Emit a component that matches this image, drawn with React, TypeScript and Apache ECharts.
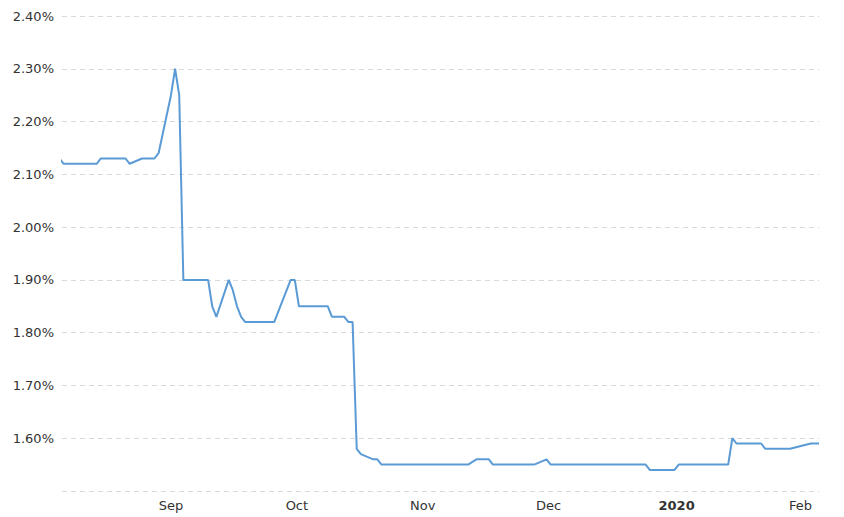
import React, { useEffect, useRef } from "react";
import * as echarts from "echarts";

// Effective rate (%), business days, by month
const aug2019Days = [20, 21, 22, 23, 26, 27, 28, 29, 30];
const aug2019Rates = [2.13, 2.12, 2.12, 2.12, 2.12, 2.12, 2.12, 2.12, 2.13];

const sep2019Days = [3, 4, 5, 6, 9, 10, 11, 12, 13, 16, 17, 18, 19, 20, 23, 24, 25, 26, 27, 30];
const sep2019Rates = [2.13, 2.13, 2.13, 2.12, 2.13, 2.13, 2.13, 2.13, 2.14, 2.25, 2.3, 2.25, 1.9, 1.9, 1.9, 1.9, 1.9, 1.85, 1.83, 1.9];

const oct2019Days = [1, 2, 3, 4, 7, 8, 9, 10, 11, 15, 16, 17, 18, 21, 22, 23, 24, 25, 28, 29, 30, 31];
const oct2019Rates = [1.88, 1.85, 1.83, 1.82, 1.82, 1.82, 1.82, 1.82, 1.82, 1.9, 1.9, 1.85, 1.85, 1.85, 1.85, 1.85, 1.85, 1.83, 1.83, 1.82, 1.82, 1.58];

const nov2019Days = [1, 4, 5, 6, 7, 8, 12, 13, 14, 15, 18, 19, 20, 21, 22, 25, 26, 27, 29];
const nov2019Rates = [1.57, 1.56, 1.56, 1.55, 1.55, 1.55, 1.55, 1.55, 1.55, 1.55, 1.55, 1.55, 1.55, 1.55, 1.55, 1.55, 1.55, 1.55, 1.56];

const dec2019Days = [2, 3, 4, 5, 6, 9, 10, 11, 12, 13, 16, 17, 18, 19, 20, 23, 24, 26, 27, 30, 31];
const dec2019Rates = [1.56, 1.55, 1.55, 1.55, 1.55, 1.55, 1.55, 1.55, 1.55, 1.55, 1.56, 1.55, 1.55, 1.55, 1.55, 1.55, 1.55, 1.55, 1.55, 1.55, 1.55];

const jan2020Days = [2, 3, 6, 7, 8, 9, 10, 13, 14, 15, 16, 17, 21, 22, 23, 24, 27, 28, 29, 30, 31];
const jan2020Rates = [1.55, 1.55, 1.55, 1.55, 1.55, 1.55, 1.54, 1.54, 1.54, 1.54, 1.54, 1.55, 1.55, 1.55, 1.55, 1.55, 1.55, 1.55, 1.55, 1.6, 1.59];

const feb2020Days = [3, 4, 5, 6, 7, 10, 11, 12, 13, 18, 19, 20];
const feb2020Rates = [1.59, 1.59, 1.59, 1.59, 1.58, 1.58, 1.58, 1.58, 1.58, 1.59, 1.59, 1.59];

const months = [
  { year: 2019, month: 7, days: aug2019Days, rates: aug2019Rates },
  { year: 2019, month: 8, days: sep2019Days, rates: sep2019Rates },
  { year: 2019, month: 9, days: oct2019Days, rates: oct2019Rates },
  { year: 2019, month: 10, days: nov2019Days, rates: nov2019Rates },
  { year: 2019, month: 11, days: dec2019Days, rates: dec2019Rates },
  { year: 2020, month: 0, days: jan2020Days, rates: jan2020Rates },
  { year: 2020, month: 1, days: feb2020Days, rates: feb2020Rates },
];

// x-axis month labels sit at the middle of each month
const monthLabelNames = ["2020", "Feb", "Mar", "Apr", "May", "Jun", "Jul", "Aug", "Sep", "Oct", "Nov", "Dec"];
const labelMonths: [number, number][] = [
  [2019, 8],
  [2019, 9],
  [2019, 10],
  [2019, 11],
  [2020, 0],
  [2020, 1],
];

const yTicks = { min: 1.5, max: 2.4, interval: 0.1 };

function midMonth(year: number, month: number): number {
  const start = new Date(year, month, 1).getTime();
  const end = new Date(year, month + 1, 1).getTime();
  return (start + end) / 2;
}

export default function App() {
  const ref = useRef<HTMLDivElement>(null);

  useEffect(() => {
    if (!ref.current) return;
    const chart = echarts.init(ref.current, undefined, { renderer: "svg" });

    const data: [number, number][] = [];
    months.forEach((m) => {
      m.days.forEach((d, i) => {
        data.push([new Date(m.year, m.month, d).getTime(), m.rates[i]]);
      });
    });

    const labelValues = labelMonths.map(([y, m]) => midMonth(y, m));

    chart.setOption({
      animation: false,
      backgroundColor: "#ffffff",
      grid: {
        left: 62,
        right: 25,
        top: 16,
        bottom: 26,
        containLabel: false,
      },
      xAxis: {
        type: "value",
        min: new Date(2019, 7, 20, 14, 24).getTime(),
        max: new Date(2020, 1, 20).getTime(),
        axisLine: { show: false },
        axisTick: { show: false },
        splitLine: { show: false },
        axisLabel: {
          customValues: labelValues,
          margin: 8,
          color: "#333",
          fontFamily: "DejaVu Sans",
          fontSize: 13,
          formatter: (v: number) => {
            const d = new Date(v);
            const m = d.getMonth();
            if (m === 0) return "{b|" + monthLabelNames[0] + "}";
            return monthLabelNames[m];
          },
          rich: {
            b: {
              fontWeight: "bold",
              color: "#333",
              fontFamily: "DejaVu Sans",
              fontSize: 13,
            },
          },
        },
      },
      yAxis: {
        type: "value",
        min: yTicks.min,
        max: yTicks.max,
        interval: yTicks.interval,
        axisLine: { show: false },
        axisTick: { show: false },
        splitLine: {
          show: true,
          lineStyle: { color: "#d9d9d9", type: [5, 4], width: 1 },
        },
        axisLabel: {
          margin: 8,
          color: "#333",
          fontFamily: "DejaVu Sans",
          fontSize: 13,
          formatter: (v: number) => (v < 1.55 ? "" : v.toFixed(2) + "%"),
        },
      },
      series: [
        {
          type: "line",
          data,
          showSymbol: false,
          symbol: "none",
          clip: true,
          lineStyle: { color: "#5b9bd5", width: 2 },
          itemStyle: { color: "#5b9bd5" },
        },
      ],
    });

    return () => chart.dispose();
  }, []);

  return (
    <div
      ref={ref}
      style={{ position: "fixed", left: 0, top: 0, width: 844, height: 517, background: "#fff" }}
    />
  );
}
